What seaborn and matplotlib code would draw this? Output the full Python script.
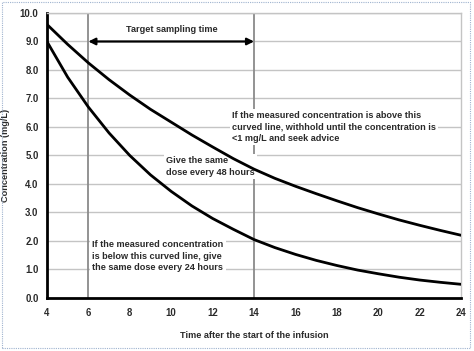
import matplotlib
matplotlib.use("Agg")
import matplotlib.pyplot as plt
import pandas as pd
import seaborn as sns

# hours after start of infusion
hours = list(range(4, 25))
# 48-hourly dosing threshold (upper curve)
upper = [9.60, 8.90, 8.25, 7.66, 7.12, 6.62, 6.17, 5.72, 5.30, 4.89, 4.52,
         4.20, 3.92, 3.66, 3.41, 3.17, 2.95, 2.74, 2.55, 2.37, 2.20]
# 24-hourly dosing threshold (lower curve)
lower = [9.00, 7.75, 6.70, 5.79, 5.00, 4.32, 3.74, 3.23, 2.79, 2.41, 2.05,
         1.77, 1.53, 1.32, 1.14, 0.98, 0.85, 0.73, 0.63, 0.55, 0.48]
x_ticks = [4, 6, 8, 10, 12, 14, 16, 18, 20, 22, 24]
y_ticks = [0, 1, 2, 3, 4, 5, 6, 7, 8, 9, 10]
window = [6, 14]

df = pd.DataFrame({
    "hours": hours * 2,
    "conc": upper + lower,
    "curve": ["q48h"] * len(hours) + ["q24h"] * len(hours),
})

sns.set_style("white")
plt.rcParams["font.family"] = ["Liberation Sans", "DejaVu Sans"]
plt.rcParams["font.weight"] = "bold"

FS = 6.6
TXT = "#2a2a2a"

fig = plt.figure(figsize=(4.74, 3.51), dpi=100)
ax = fig.add_axes([0.099, 0.151, 0.874, 0.812])

for yv in y_ticks[1:]:
    ax.axhline(yv, color="#c4c4c4", lw=1.0, zorder=0)
for xv in window:
    ax.axvline(xv, color="#8a8a8a", lw=1.3, zorder=1)

sns.lineplot(data=df, x="hours", y="conc", hue="curve",
             palette=["black", "black"], lw=2.0, legend=False, ax=ax, zorder=3)

ax.set_xlim(4, 24)
ax.set_ylim(0, 10)
ax.set_xticks(x_ticks)
ax.set_yticks(y_ticks)
ax.set_yticklabels([f"{v:.1f}" for v in y_ticks])
ax.tick_params(axis="both", labelsize=6.9, length=3, width=1.2, color="black",
               pad=3, labelcolor=TXT)
ax.tick_params(axis="x", direction="inout", length=4, pad=5)
for lbl in ax.get_xticklabels() + ax.get_yticklabels():
    lbl.set_fontweight("bold")

ax.spines["left"].set_linewidth(2)
ax.spines["bottom"].set_linewidth(2)
ax.spines["left"].set_color("black")
ax.spines["bottom"].set_color("black")
for s in ("top", "right"):
    ax.spines[s].set_color("#c4c4c4")
    ax.spines[s].set_linewidth(1.0)

ax.set_xlabel("Time after the start of the infusion", fontsize=FS,
              fontweight="bold", color=TXT)
ax.xaxis.set_label_coords(0.5, -0.115)
ax.set_ylabel("Concentration (mg/L)", fontsize=FS, fontweight="bold", color=TXT)
ax.yaxis.set_label_coords(-0.09, 0.5)

ax.annotate("", xy=(window[0], 9.0), xytext=(window[1], 9.0),
            arrowprops=dict(arrowstyle="<|-|>", color="black", lw=1.6,
                            mutation_scale=10, shrinkA=0, shrinkB=0), zorder=4)
ax.text(10.05, 9.42, "Target sampling time", ha="center", va="center",
        fontsize=FS, fontweight="bold", color=TXT)

box = dict(facecolor="white", edgecolor="none", pad=1.5)
ax.text(12.95, 6.0,
        "If the measured concentration is above this\n"
        "curved line, withhold until the concentration is\n"
        "<1 mg/L and seek advice",
        ha="left", va="center", fontsize=FS, fontweight="bold",
        color=TXT, linespacing=1.4, bbox=box, zorder=2)
ax.text(9.75, 4.6, "Give the same\ndose every 48 hours",
        ha="left", va="center", fontsize=FS, fontweight="bold",
        color=TXT, linespacing=1.4, bbox=box, zorder=2)
ax.text(6.2, 1.47,
        "If the measured concentration\n"
        "is below this curved line, give\n"
        "the same dose every 24 hours",
        ha="left", va="center", fontsize=FS, fontweight="bold",
        color=TXT, linespacing=1.4, bbox=box, zorder=2)

# dotted selection frame of the embedded picture
frame = plt.Rectangle((0.004, 0.008), 0.988, 0.985, transform=fig.transFigure,
                      fill=False, edgecolor="#9fb3cf", lw=0.8, ls=(0, (1, 1)))
fig.patches.append(frame)

fig.savefig("out.png", dpi=100)
